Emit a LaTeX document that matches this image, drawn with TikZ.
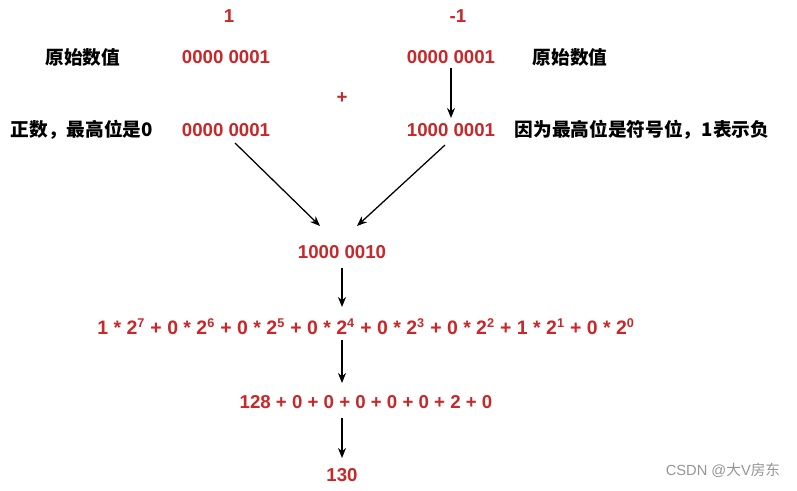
\documentclass[tikz,border=0pt]{standalone}
\usepackage{fontspec}
\setmainfont{Liberation Sans}
\newfontfamily\cjk{Noto Sans CJK SC}
\usetikzlibrary{arrows.meta}
\definecolor{numred}{RGB}{200,40,42}
\definecolor{wm}{RGB}{150,150,150}
\tikzset{
  num/.style={inner sep=0pt, text=numred, font=\fontsize{14}{16}\selectfont\bfseries},
  lbl/.style={inner sep=0pt, text=black, font=\fontsize{14}{16}\selectfont\cjk\bfseries},
  arr/.style={draw=black, line width=0.95pt, -{Stealth[length=7.5pt,width=6pt]}},
  wmark/.style={inner sep=0pt, text=wm, font=\fontsize{11}{13}\selectfont}
}
\newcommand{\pw}[1]{2\textsuperscript{\fontsize{9.5}{10}\selectfont #1}}
\begin{document}
\begin{tikzpicture}[x=0.75pt,y=-0.75pt]
\useasboundingbox[fill=white] (0,0) rectangle (797,490);
\node[num] (one) at (229,16) {1};
\node[num] (mone) at (458,16) {-1};
\node[lbl] (orig1) at (83,57) {原始数值};
\node[num] (a1) at (226,57) {0000 0001};
\node[num] (a2) at (451,57) {0000 0001};
\node[lbl] (orig2) at (570,57) {原始数值};
\node[num] (plus) at (342,98) {+};
\node[lbl] (pos) at (82,130) {正数，最高位是0};
\node[num] (b1) at (226,130) {0000 0001};
\node[num] (b2) at (451,130) {1000 0001};
\node[lbl] (neg) at (642,130) {因为最高位是符号位，1表示负};
\node[num] (c) at (342,252) {1000 0010};
\node[num,font=\fontsize{14.6}{16}\selectfont\bfseries] (f) at (366,327) {1 * \pw{7} + 0 * \pw{6} + 0 * \pw{5} + 0 * \pw{4} + 0 * \pw{3} + 0 * \pw{2} + 1 * \pw{1} + 0 * \pw{0}};
\node[num] (s) at (366,402) {128 + 0 + 0 + 0 + 0 + 0 + 2 + 0};
\node[num] (r) at (342,475) {130};
\node[wmark] (w) at (723,470) {CSDN @{\cjk 大}V{\cjk 房东}};
\coordinate (fc) at (c.center |- f.center);
\coordinate (sc) at (c.center |- s.center);
\draw[arr] ([yshift=-8.25pt]a2.center) -- ([yshift=9pt]b2.center);
\draw[arr] ([xshift=6.75pt,yshift=-9.75pt]b1.center) -- ([xshift=-16.5pt,yshift=19.5pt]c.center);
\draw[arr] ([xshift=-4.5pt,yshift=-11.25pt]b2.center) -- ([xshift=11.25pt,yshift=19.5pt]c.center);
\draw[arr] ([yshift=-12pt]c.center) -- ([yshift=15pt]fc);
\draw[arr] ([yshift=-9.75pt]fc) -- ([yshift=14.25pt]sc);
\draw[arr] ([yshift=-12pt]sc) -- ([yshift=12.75pt]r.center);
\end{tikzpicture}
\end{document}
